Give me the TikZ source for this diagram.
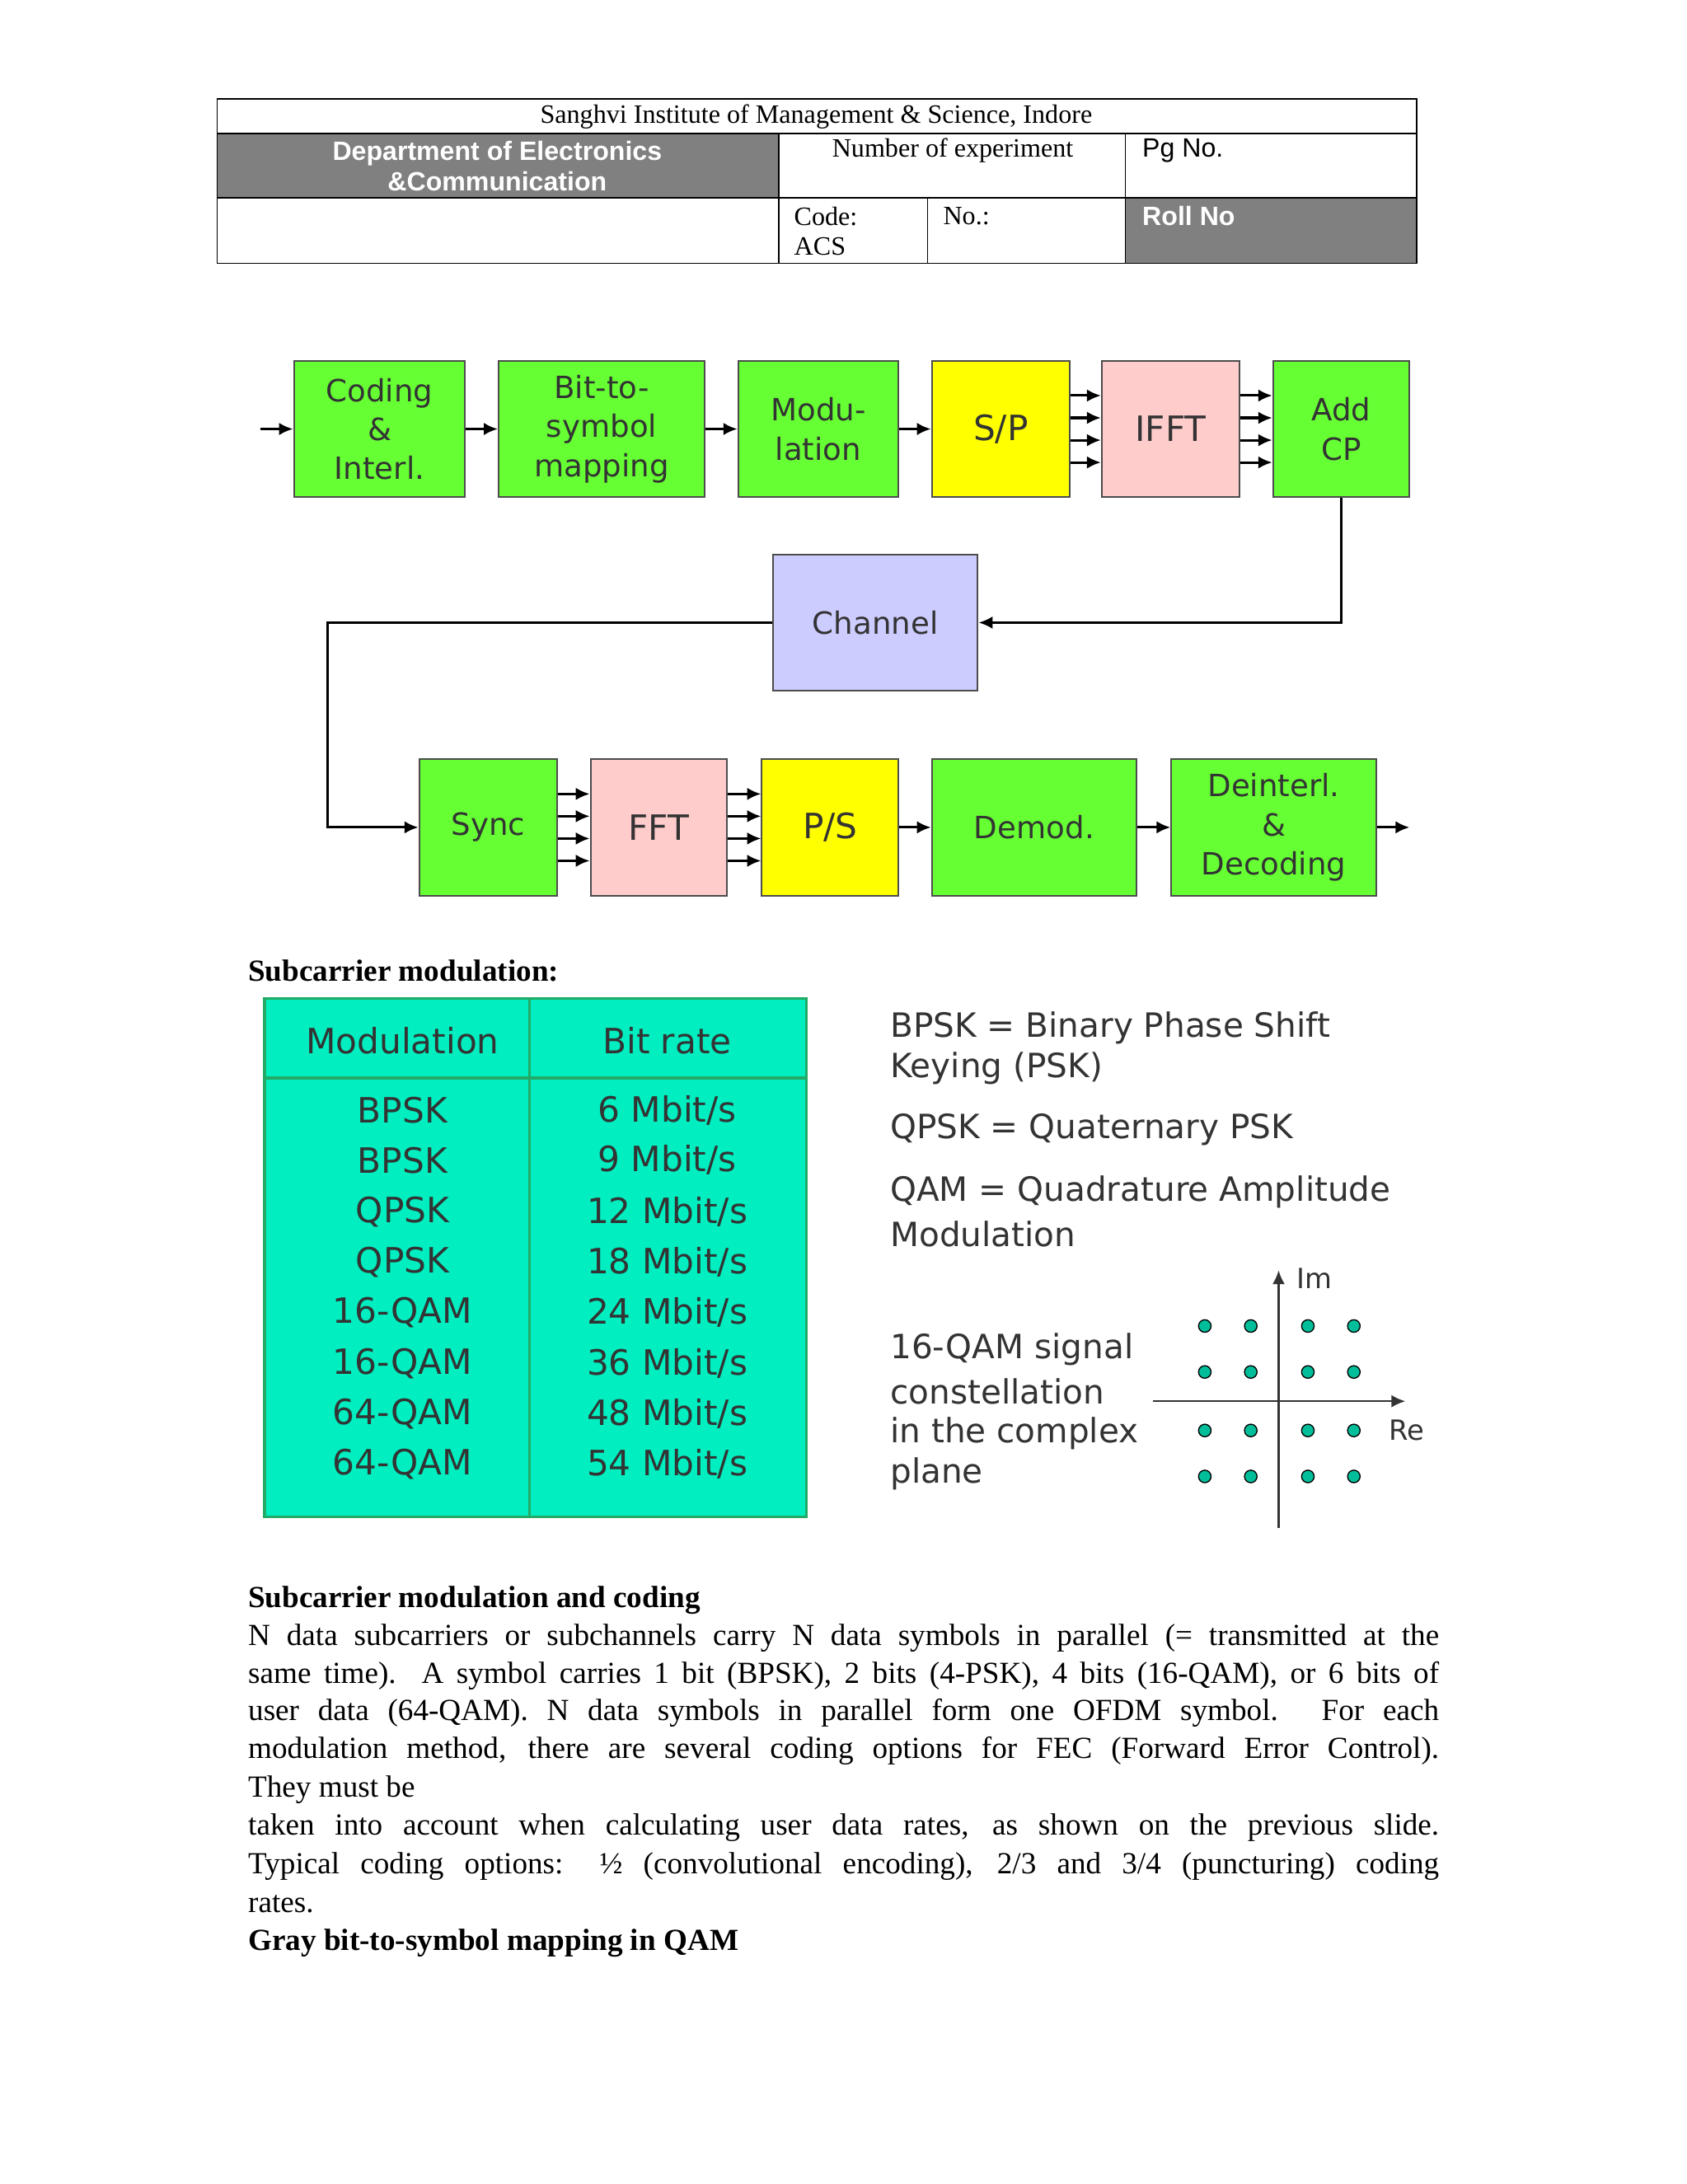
\documentclass[tikz,border=0pt]{standalone}
\usepackage{fontspec}
\setmainfont{Liberation Serif}
\newfontfamily\hdsans{Liberation Sans}
\newfontfamily\blk{DejaVu Sans}
\usetikzlibrary{arrows.meta}
\definecolor{gr}{HTML}{66FF33}
\definecolor{ye}{HTML}{FFFF00}
\definecolor{pk}{HTML}{FFCCCC}
\definecolor{lav}{HTML}{CCCCFF}
\definecolor{tq}{HTML}{00EEC0}
\definecolor{tql}{HTML}{22AA66}
\definecolor{hg}{HTML}{808080}
\tikzset{
 blkbox/.style={draw=black!70,line width=1.2pt,minimum width=#1,minimum height=98pt,inner sep=0pt,align=center,font=\blk\fontsize{22}{28}\selectfont,text=black!80},
 ar/.style={-{Latex[length=10pt,width=9pt]},line width=1.8pt},
 ht/.style={font=\fontsize{19}{21}\selectfont,inner sep=0pt},
 tt/.style={font=\blk\fontsize{25}{30}\selectfont,text=black!80,inner sep=0pt},
 rt/.style={font=\blk\fontsize{24}{29}\selectfont,text=black!80,inner sep=0pt,anchor=west},
 dot/.style={circle,fill=tq!80!black,draw=black,line width=0.8pt,minimum size=9pt,inner sep=0pt},
 bt/.style={font=\fontsize{22}{27}\selectfont,inner sep=0pt,anchor=west}
}
\begin{document}
\begin{tikzpicture}[x=1pt,y=-1pt]
\useasboundingbox[fill=white] (0,0) rectangle (1211,1568);
% header
\fill[hg] (156,96) rectangle (559,142);
\fill[hg] (808,142) rectangle (1017,189);
\draw[line width=1pt] (156,71) rectangle (1017,189);
\draw[line width=1pt] (156,96)--(1017,96) (156,142)--(1017,142) (559,96)--(559,189) (808,96)--(808,189) (666,142)--(666,189);
\node[ht] (h1) at (586,84) {Sanghvi Institute of Management \& Science, Indore};
\node[ht,font=\hdsans\bfseries\fontsize{19}{22}\selectfont,text=white,align=center] (h2) at (357,119) {Department of Electronics\\\&Communication};
\node[ht] (h3) at (684,108) {Number of experiment};
\node[ht,font=\hdsans\fontsize{19}{21}\selectfont,anchor=west] (h4) at (820,108) {Pg No.};
\node[ht,anchor=west,align=left] (h5) at (570,166) {Code:\\ACS};
\node[ht,anchor=west] (h6) at (677,155) {No.:};
\node[ht,font=\hdsans\bfseries\fontsize{19}{21}\selectfont,text=white,anchor=west] (h7) at (820,155) {Roll No};
% row 1
\node[blkbox=123pt,fill=gr] (c1) at (272.5,308) {Coding\\\&\\Interl.};
\node[blkbox=148pt,fill=gr] (c2) at (432,308) {Bit-to-\\symbol\\mapping};
\node[blkbox=115pt,fill=gr] (c3) at (587.5,308) {Modu-\\lation};
\node[blkbox=99pt,fill=ye,font=\blk\fontsize{25}{30}\selectfont] (c4) at (718.5,308) {S/P};
\node[blkbox=99pt,fill=pk,font=\blk\fontsize{25}{30}\selectfont] (c5) at (840.5,308) {IFFT};
\node[blkbox=98pt,fill=gr] (c6) at (963,308) {Add\\CP};
\coordinate (in) at (187,308);
\draw[ar] (in)--(c1);
\draw[ar] (c1)--(c2); \draw[ar] (c2)--(c3); \draw[ar] (c3)--(c4);
\foreach \d in {-24,-8,8,24}{
 \draw[ar] ([yshift=\d]c4.east)--([yshift=\d]c5.west);
 \draw[ar] ([yshift=\d]c5.east)--([yshift=\d]c6.west);}
\node[blkbox=147pt,fill=lav] (ch) at (628.5,447) {Channel};
\draw[ar] (c6.south) |- (ch.east);
% row 2
\node[blkbox=99pt,fill=gr] (d1) at (350.5,594) {Sync};
\node[blkbox=98pt,fill=pk,font=\blk\fontsize{25}{30}\selectfont] (d2) at (473,594) {FFT};
\node[blkbox=98pt,fill=ye,font=\blk\fontsize{25}{30}\selectfont] (d3) at (596,594) {P/S};
\node[blkbox=147pt,fill=gr] (d4) at (742.5,594) {Demod.};
\node[blkbox=147pt,fill=gr] (d5) at (914.5,594) {Deinterl.\\\&\\Decoding};
\coordinate (turn) at (235,447);
\coordinate (out) at (1012,594);
\draw[ar] (ch.west)--(turn)|-(d1.west);
\foreach \d in {-24,-8,8,24}{
 \draw[ar] ([yshift=\d]d1.east)--([yshift=\d]d2.west);
 \draw[ar] ([yshift=\d]d2.east)--([yshift=\d]d3.west);}
\draw[ar] (d3)--(d4); \draw[ar] (d4)--(d5); \draw[ar] (d5)--(out);
% table
\node[bt,font=\bfseries\fontsize{22}{27}\selectfont] (s1) at (178,697) {Subcarrier modulation:};
\draw[fill=tq,draw=tql,line width=2pt] (190,717) rectangle (579,1089);
\draw[draw=tql,line width=2pt] (190,774)--(579,774) (380,717)--(380,1089);
\node[tt] (th1) at (289,747) {Modulation};
\node[tt] (th2) at (479,747) {Bit rate};
\foreach \m/\r/\y [count=\i] in {BPSK/6 Mbit\slash s/797,BPSK/9 Mbit\slash s/833,QPSK/12 Mbit\slash s/870,QPSK/18 Mbit\slash s/906,16-QAM/24 Mbit\slash s/942,16-QAM/36 Mbit\slash s/979,64-QAM/48 Mbit\slash s/1015,64-QAM/54 Mbit\slash s/1051}{
 \node[tt] (m\i) at (289,\y) {\m};
 \node[tt] (r\i) at (479,\y) {\r};}
% right text
\node[rt] (t1) at (639,738) {BPSK = Binary Phase Shift};
\node[rt] (t2) at (639,767) {Keying (PSK)};
\node[rt] (t3) at (639,811) {QPSK = Quaternary PSK};
\node[rt] (t4) at (639,856) {QAM = Quadrature Amplitude};
\node[rt] (t5) at (639,886) {Modulation};
\node[rt] (t6) at (639,969) {16-QAM signal};
\node[rt] (t7) at (639,999) {constellation};
\node[rt] (t8) at (639,1029) {in the complex};
\node[rt] (t9) at (639,1058) {plane};
\coordinate (xa) at (828,1006); \coordinate (xb) at (1009,1006);
\coordinate (ya) at (918,1097); \coordinate (yb) at (918,912);
\draw[-{Latex[length=10pt,width=9pt]},line width=1.4pt,black!80] (xa)--(xb);
\draw[-{Latex[length=10pt,width=9pt]},line width=1.4pt,black!80] (ya)--(yb);
\node[rt,font=\blk\fontsize{20}{24}\selectfont] (im) at (931,918) {Im};
\node[rt,font=\blk\fontsize{20}{24}\selectfont] (re) at (997,1027) {Re};
\foreach \x in {865,898,939,972}\foreach \y in {952,985,1027,1060}{\node[dot] at (\x,\y) {};}
% paragraph
\node[bt,font=\bfseries\fontsize{22}{27}\selectfont] (p0) at (178,1149) {Subcarrier modulation and coding};
\node[bt] (p1) at (178,1176) {\makebox[855pt][s]{N data subcarriers or subchannels carry N data symbols in parallel (= transmitted at the}};
\node[bt] (p2) at (178,1203) {\makebox[855pt][s]{same time). A symbol carries 1 bit (BPSK), 2 bits (4-PSK), 4 bits (16-QAM), or 6 bits of}};
\node[bt] (p3) at (178,1230) {\makebox[855pt][s]{user data (64-QAM). N data symbols in parallel form one OFDM symbol. For each}};
\node[bt] (p4) at (178,1257) {\makebox[855pt][s]{modulation method, there are several coding options for FEC (Forward Error Control).}};
\node[bt] (p5) at (178,1285) {They must be};
\node[bt] (p6) at (178,1312) {\makebox[855pt][s]{taken into account when calculating user data rates, as shown on the previous slide.}};
\node[bt] (p7) at (178,1340) {\makebox[855pt][s]{Typical coding options: ½ (convolutional encoding), 2/3 and 3/4 (puncturing) coding}};
\node[bt] (p8) at (178,1367) {rates.};
\node[bt,font=\bfseries\fontsize{22}{27}\selectfont] (p9) at (178,1395) {Gray bit-to-symbol mapping in QAM};
\end{tikzpicture}
\end{document}
